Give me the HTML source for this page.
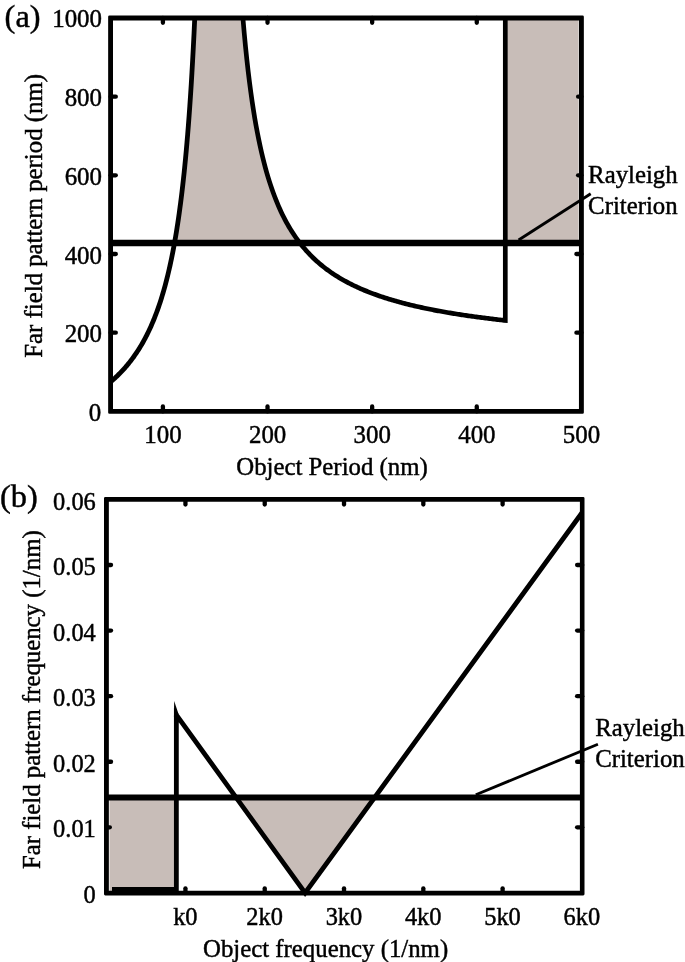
<!DOCTYPE html>
<html><head><meta charset="utf-8"><title>Figure</title>
<style>html,body{margin:0;padding:0;background:#fff;}svg{display:block;}text{font-family:"Liberation Serif",serif;fill:#000;stroke:#000;stroke-width:0.45px;}</style></head><body>
<svg width="685" height="962" viewBox="0 0 685 962">
<rect x="0" y="0" width="685" height="962" fill="#fff"/>
<path d="M174.50,243.00 L174.84,241.07 L175.18,239.10 L175.53,237.10 L175.87,235.06 L176.21,232.99 L176.56,230.88 L176.90,228.74 L177.24,226.55 L177.59,224.33 L177.93,222.06 L178.27,219.76 L178.62,217.40 L178.96,215.01 L179.30,212.57 L179.65,210.08 L179.99,207.54 L180.33,204.96 L180.68,202.32 L181.02,199.63 L181.36,196.88 L181.71,194.08 L182.05,191.22 L182.39,188.30 L182.74,185.32 L183.08,182.27 L183.42,179.16 L183.77,175.98 L184.11,172.73 L184.45,169.41 L184.80,166.01 L185.14,162.54 L185.48,158.99 L185.83,155.35 L186.17,151.63 L186.51,147.81 L186.86,143.91 L187.20,139.91 L187.54,135.81 L187.89,131.61 L188.23,127.30 L188.57,122.88 L188.92,118.34 L189.26,113.68 L189.60,108.90 L189.95,103.99 L190.29,98.95 L190.63,93.76 L190.98,88.43 L191.32,82.94 L191.66,77.29 L192.01,71.48 L192.35,65.49 L192.69,59.32 L193.04,52.96 L193.38,46.40 L193.72,39.63 L194.07,32.64 L194.41,25.41 L194.75,17.95 L242.92,17.95 L243.64,26.44 L244.36,34.51 L245.08,42.19 L245.80,49.50 L246.52,56.48 L247.24,63.15 L247.97,69.52 L248.69,75.61 L249.41,81.45 L250.13,87.05 L250.85,92.42 L251.57,97.58 L252.29,102.54 L253.01,107.31 L253.74,111.90 L254.46,116.32 L255.18,120.58 L255.90,124.69 L256.62,128.66 L257.34,132.49 L258.06,136.19 L258.78,139.77 L259.51,143.23 L260.23,146.58 L260.95,149.83 L261.67,152.98 L262.39,156.03 L263.11,158.98 L263.83,161.85 L264.55,164.64 L265.28,167.34 L266.00,169.97 L266.72,172.53 L267.44,175.01 L268.16,177.43 L268.88,179.78 L269.60,182.07 L270.32,184.30 L271.05,186.47 L271.77,188.59 L272.49,190.65 L273.21,192.66 L273.93,194.62 L274.65,196.54 L275.37,198.41 L276.09,200.23 L276.82,202.01 L277.54,203.75 L278.26,205.45 L278.98,207.12 L279.70,208.74 L280.42,210.33 L281.14,211.88 L281.86,213.40 L282.59,214.89 L283.31,216.35 L284.03,217.77 L284.75,219.17 L285.47,220.54 L286.19,221.88 L286.91,223.19 L287.63,224.48 L288.36,225.74 L289.08,226.98 L289.80,228.19 L290.52,229.38 L291.24,230.55 L291.96,231.69 L292.68,232.82 L293.40,233.92 L294.13,235.00 L294.85,236.06 L295.57,237.11 L296.29,238.13 L297.01,239.14 L297.73,240.13 L298.45,241.10 L299.17,242.06 L299.90,243.00Z" fill="#c8bdb8"/>
<rect x="505.3" y="17.95" width="73.19999999999999" height="225.05" fill="#c8bdb8"/>
<path d="M110.60,381.89 L111.31,381.29 L112.01,380.68 L112.72,380.06 L113.43,379.43 L114.14,378.79 L114.84,378.15 L115.55,377.49 L116.26,376.83 L116.96,376.16 L117.67,375.47 L118.38,374.78 L119.09,374.08 L119.79,373.36 L120.50,372.64 L121.21,371.90 L121.91,371.16 L122.62,370.40 L123.33,369.63 L124.04,368.85 L124.74,368.05 L125.45,367.25 L126.16,366.43 L126.86,365.60 L127.57,364.75 L128.28,363.89 L128.99,363.02 L129.69,362.13 L130.40,361.23 L131.11,360.31 L131.81,359.37 L132.52,358.42 L133.23,357.46 L133.94,356.48 L134.64,355.48 L135.35,354.46 L136.06,353.42 L136.77,352.37 L137.47,351.29 L138.18,350.20 L138.89,349.09 L139.59,347.95 L140.30,346.80 L141.01,345.62 L141.72,344.42 L142.42,343.19 L143.13,341.95 L143.84,340.67 L144.54,339.38 L145.25,338.05 L145.96,336.70 L146.67,335.32 L147.37,333.91 L148.08,332.47 L148.79,331.01 L149.49,329.51 L150.20,327.97 L150.91,326.41 L151.62,324.81 L152.32,323.17 L153.03,321.50 L153.74,319.78 L154.44,318.03 L155.15,316.24 L155.86,314.40 L156.57,312.52 L157.27,310.59 L157.98,308.62 L158.69,306.59 L159.39,304.52 L160.10,302.39 L160.81,300.21 L161.52,297.96 L162.22,295.66 L162.93,293.30 L163.64,290.87 L164.34,288.38 L165.05,285.81 L165.76,283.17 L166.47,280.46 L167.17,277.66 L167.88,274.78 L168.59,271.81 L169.29,268.76 L170.00,265.60 L170.71,262.35 L171.42,258.99 L172.12,255.52 L172.83,251.94 L173.54,248.23 L174.24,244.39 L174.95,240.43 L175.66,236.31 L176.37,232.05 L177.07,227.64 L177.78,223.05 L178.49,218.29 L179.20,213.34 L179.90,208.19 L180.61,202.83 L181.32,197.25 L182.02,191.43 L182.73,185.36 L183.44,179.02 L184.15,172.39 L184.85,165.45 L185.56,158.18 L186.27,150.55 L186.97,142.55 L187.68,134.13 L188.39,125.27 L189.10,115.92 L189.80,106.06 L190.51,95.64 L191.22,84.60 L191.92,72.88 L192.63,60.44 L193.34,47.19 L194.05,33.06 L194.75,17.95" fill="none" stroke="#000" stroke-width="4.8" stroke-linejoin="round"/>
<path d="M242.92,17.95 L244.23,33.15 L245.55,47.03 L246.87,59.75 L248.19,71.45 L249.51,82.25 L250.83,92.26 L252.15,101.55 L253.46,110.19 L254.78,118.27 L256.10,125.82 L257.42,132.90 L258.74,139.55 L260.06,145.81 L261.38,151.71 L262.69,157.28 L264.01,162.55 L265.33,167.55 L266.65,172.29 L267.97,176.79 L269.29,181.07 L270.61,185.15 L271.92,189.04 L273.24,192.75 L274.56,196.30 L275.88,199.69 L277.20,202.94 L278.52,206.05 L279.83,209.04 L281.15,211.90 L282.47,214.66 L283.79,217.31 L285.11,219.86 L286.43,222.31 L287.75,224.67 L289.06,226.96 L290.38,229.16 L291.70,231.28 L293.02,233.33 L294.34,235.32 L295.66,237.24 L296.98,239.09 L298.29,240.89 L299.61,242.63 L300.93,244.32 L302.25,245.96 L303.57,247.55 L304.89,249.09 L306.20,250.58 L307.52,252.04 L308.84,253.45 L310.16,254.83 L311.48,256.16 L312.80,257.46 L314.12,258.73 L315.43,259.96 L316.75,261.16 L318.07,262.33 L319.39,263.47 L320.71,264.58 L322.03,265.67 L323.35,266.72 L324.66,267.75 L325.98,268.76 L327.30,269.75 L328.62,270.71 L329.94,271.65 L331.26,272.56 L332.58,273.46 L333.89,274.34 L335.21,275.19 L336.53,276.03 L337.85,276.85 L339.17,277.66 L340.49,278.44 L341.80,279.21 L343.12,279.97 L344.44,280.71 L345.76,281.43 L347.08,282.14 L348.40,282.84 L349.72,283.52 L351.03,284.19 L352.35,284.84 L353.67,285.49 L354.99,286.12 L356.31,286.74 L357.63,287.34 L358.95,287.94 L360.26,288.53 L361.58,289.10 L362.90,289.67 L364.22,290.22 L365.54,290.77 L366.86,291.30 L368.17,291.83 L369.49,292.35 L370.81,292.86 L372.13,293.36 L373.45,293.85 L374.77,294.33 L376.09,294.81 L377.40,295.28 L378.72,295.74 L380.04,296.19 L381.36,296.63 L382.68,297.07 L384.00,297.51 L385.32,297.93 L386.63,298.35 L387.95,298.76 L389.27,299.17 L390.59,299.57 L391.91,299.96 L393.23,300.35 L394.55,300.73 L395.86,301.11 L397.18,301.48 L398.50,301.85 L399.82,302.21 L401.14,302.57 L402.46,302.92 L403.77,303.26 L405.09,303.60 L406.41,303.94 L407.73,304.27 L409.05,304.60 L410.37,304.92 L411.69,305.24 L413.00,305.55 L414.32,305.86 L415.64,306.17 L416.96,306.47 L418.28,306.77 L419.60,307.06 L420.92,307.36 L422.23,307.64 L423.55,307.93 L424.87,308.20 L426.19,308.48 L427.51,308.75 L428.83,309.02 L430.14,309.29 L431.46,309.55 L432.78,309.81 L434.10,310.07 L435.42,310.32 L436.74,310.57 L438.06,310.82 L439.37,311.06 L440.69,311.30 L442.01,311.54 L443.33,311.78 L444.65,312.01 L445.97,312.24 L447.29,312.47 L448.60,312.70 L449.92,312.92 L451.24,313.14 L452.56,313.36 L453.88,313.57 L455.20,313.79 L456.52,314.00 L457.83,314.21 L459.15,314.41 L460.47,314.62 L461.79,314.82 L463.11,315.02 L464.43,315.22 L465.74,315.41 L467.06,315.61 L468.38,315.80 L469.70,315.99 L471.02,316.17 L472.34,316.36 L473.66,316.54 L474.97,316.73 L476.29,316.91 L477.61,317.08 L478.93,317.26 L480.25,317.44 L481.57,317.61 L482.89,317.78 L484.20,317.95 L485.52,318.12 L486.84,318.28 L488.16,318.45 L489.48,318.61 L490.80,318.77 L492.11,318.93 L493.43,319.09 L494.75,319.25 L496.07,319.40 L497.39,319.56 L498.71,319.71 L500.03,319.86 L501.34,320.01 L502.66,320.16 L503.98,320.31 L505.30,320.45 L505.3,17.95" fill="none" stroke="#000" stroke-width="4.7" stroke-linejoin="miter" stroke-miterlimit="10"/>
<line x1="110.6" y1="243.0" x2="581.4" y2="243.0" stroke="#000" stroke-width="6.5"/>
<line x1="518.6" y1="240" x2="590.7" y2="193.8" stroke="#000" stroke-width="2.85"/>
<line x1="162.91" y1="411.4" x2="162.91" y2="406.40" stroke="#000" stroke-width="4.3" stroke-linecap="round"/>
<line x1="162.91" y1="17.95" x2="162.91" y2="22.85" stroke="#000" stroke-width="4.3" stroke-linecap="round"/>
<line x1="267.53" y1="411.4" x2="267.53" y2="406.40" stroke="#000" stroke-width="4.3" stroke-linecap="round"/>
<line x1="267.53" y1="17.95" x2="267.53" y2="22.85" stroke="#000" stroke-width="4.3" stroke-linecap="round"/>
<line x1="372.16" y1="411.4" x2="372.16" y2="406.40" stroke="#000" stroke-width="4.3" stroke-linecap="round"/>
<line x1="372.16" y1="17.95" x2="372.16" y2="22.85" stroke="#000" stroke-width="4.3" stroke-linecap="round"/>
<line x1="476.78" y1="411.4" x2="476.78" y2="406.40" stroke="#000" stroke-width="4.3" stroke-linecap="round"/>
<line x1="476.78" y1="17.95" x2="476.78" y2="22.85" stroke="#000" stroke-width="4.3" stroke-linecap="round"/>
<line x1="110.6" y1="332.71" x2="115.80" y2="332.71" stroke="#000" stroke-width="4.3" stroke-linecap="round"/>
<line x1="581.4" y1="332.71" x2="576.40" y2="332.71" stroke="#000" stroke-width="4.3" stroke-linecap="round"/>
<line x1="110.6" y1="254.02" x2="115.80" y2="254.02" stroke="#000" stroke-width="4.3" stroke-linecap="round"/>
<line x1="581.4" y1="254.02" x2="576.40" y2="254.02" stroke="#000" stroke-width="4.3" stroke-linecap="round"/>
<line x1="110.6" y1="175.33" x2="115.80" y2="175.33" stroke="#000" stroke-width="4.3" stroke-linecap="round"/>
<line x1="581.4" y1="175.33" x2="578.10" y2="175.33" stroke="#000" stroke-width="4.3" stroke-linecap="round"/>
<line x1="110.6" y1="96.64" x2="115.80" y2="96.64" stroke="#000" stroke-width="4.3" stroke-linecap="round"/>
<line x1="581.4" y1="96.64" x2="578.10" y2="96.64" stroke="#000" stroke-width="4.3" stroke-linecap="round"/>
<path d="M109.45,15.45 H582.5500000000001 A1.3,1.3 0 0 1 583.85,16.75 V412.5 A1.3,1.3 0 0 1 582.5500000000001,413.8 H109.45 A1.3,1.3 0 0 1 108.15,412.5 V16.75 A1.3,1.3 0 0 1 109.45,15.45Z M113.0,20.45 V409.0 H578.95 V20.45Z" fill="#000" fill-rule="evenodd"/>
<text x="4.6" y="26.7" font-size="32.4">(a)</text>
<text x="101.3" y="421.30" font-size="24.9" text-anchor="end">0</text>
<text x="102.0" y="341.61" font-size="24.9" text-anchor="end">200</text>
<text x="102.0" y="263.92" font-size="24.9" text-anchor="end">400</text>
<text x="102.0" y="185.23" font-size="24.9" text-anchor="end">600</text>
<text x="102.0" y="106.34" font-size="24.9" text-anchor="end">800</text>
<text x="102.0" y="26.95" font-size="24.9" text-anchor="end">1000</text>
<text x="163.01" y="443.1" font-size="24.9" text-anchor="middle">100</text>
<text x="267.63" y="443.1" font-size="24.9" text-anchor="middle">200</text>
<text x="372.26" y="443.1" font-size="24.9" text-anchor="middle">300</text>
<text x="476.88" y="443.1" font-size="24.9" text-anchor="middle">400</text>
<text x="581.50" y="443.1" font-size="24.9" text-anchor="middle">500</text>
<text x="332" y="475" font-size="24.8" text-anchor="middle">Object Period (nm)</text>
<text transform="translate(42.3,215.9) rotate(-90)" font-size="24.8" text-anchor="middle">Far field pattern period (nm)</text>
<text x="588.1" y="183.0" font-size="24.8">Rayleigh</text>
<text x="588.1" y="214.4" font-size="24.8">Criterion</text>
<rect x="109.5" y="797.6" width="66.85" height="93.39999999999998" fill="#c8bdb8"/>
<path d="M236.17,797.6 L374.52,797.6 L305.1,892.9Z" fill="#c8bdb8"/>
<path d="M112.0,889.4 L176.35,889.4 L176.35,714.9 L305.1,892.9 L582.2,512.5" fill="none" stroke="#000" stroke-width="4.8" stroke-linejoin="miter" stroke-miterlimit="10"/>
<path d="M173.95,716.9 L174.15,701 L178.54999999999998,713.9Z" fill="#000"/>
<line x1="106.45" y1="797.6" x2="582.2" y2="797.6" stroke="#000" stroke-width="6.0"/>
<line x1="475.8" y1="794.8" x2="597.9" y2="744.2" stroke="#000" stroke-width="2.85"/>
<line x1="185.44" y1="892.9" x2="185.44" y2="888.30" stroke="#000" stroke-width="4.3" stroke-linecap="round"/>
<line x1="185.44" y1="499.4" x2="185.44" y2="504.50" stroke="#000" stroke-width="4.3" stroke-linecap="round"/>
<line x1="264.73" y1="892.9" x2="264.73" y2="888.30" stroke="#000" stroke-width="4.3" stroke-linecap="round"/>
<line x1="264.73" y1="499.4" x2="264.73" y2="504.50" stroke="#000" stroke-width="4.3" stroke-linecap="round"/>
<line x1="344.02" y1="892.9" x2="344.02" y2="888.30" stroke="#000" stroke-width="4.3" stroke-linecap="round"/>
<line x1="344.02" y1="499.4" x2="344.02" y2="504.50" stroke="#000" stroke-width="4.3" stroke-linecap="round"/>
<line x1="423.32" y1="892.9" x2="423.32" y2="888.30" stroke="#000" stroke-width="4.3" stroke-linecap="round"/>
<line x1="423.32" y1="499.4" x2="423.32" y2="504.50" stroke="#000" stroke-width="4.3" stroke-linecap="round"/>
<line x1="502.61" y1="892.9" x2="502.61" y2="888.30" stroke="#000" stroke-width="4.3" stroke-linecap="round"/>
<line x1="502.61" y1="499.4" x2="502.61" y2="504.50" stroke="#000" stroke-width="4.3" stroke-linecap="round"/>
<line x1="106.45" y1="827.32" x2="109.85" y2="827.32" stroke="#000" stroke-width="4.3" stroke-linecap="round"/>
<line x1="582.2" y1="827.32" x2="577.10" y2="827.32" stroke="#000" stroke-width="4.3" stroke-linecap="round"/>
<line x1="106.45" y1="761.73" x2="111.05" y2="761.73" stroke="#000" stroke-width="4.3" stroke-linecap="round"/>
<line x1="582.2" y1="761.73" x2="577.10" y2="761.73" stroke="#000" stroke-width="4.3" stroke-linecap="round"/>
<line x1="106.45" y1="696.15" x2="111.05" y2="696.15" stroke="#000" stroke-width="4.3" stroke-linecap="round"/>
<line x1="582.2" y1="696.15" x2="577.10" y2="696.15" stroke="#000" stroke-width="4.3" stroke-linecap="round"/>
<line x1="106.45" y1="630.57" x2="111.05" y2="630.57" stroke="#000" stroke-width="4.3" stroke-linecap="round"/>
<line x1="582.2" y1="630.57" x2="577.10" y2="630.57" stroke="#000" stroke-width="4.3" stroke-linecap="round"/>
<line x1="106.45" y1="564.98" x2="111.05" y2="564.98" stroke="#000" stroke-width="4.3" stroke-linecap="round"/>
<line x1="582.2" y1="564.98" x2="577.10" y2="564.98" stroke="#000" stroke-width="4.3" stroke-linecap="round"/>
<path d="M105.3,497.0 H583.2 A1.3,1.3 0 0 1 584.5,498.3 V894.1 A1.3,1.3 0 0 1 583.2,895.4 H105.3 A1.3,1.3 0 0 1 104.0,894.1 V498.3 A1.3,1.3 0 0 1 105.3,497.0Z M108.85,501.8 V890.8 H579.9 V501.8Z" fill="#000" fill-rule="evenodd"/>
<text x="-0.1" y="506.7" font-size="32.4">(b)</text>
<text x="95.8" y="902.90" font-size="24.4" text-anchor="end">0</text>
<text x="95.8" y="837.40" font-size="24.4" text-anchor="end">0.01</text>
<text x="95.8" y="771.89" font-size="24.4" text-anchor="end">0.02</text>
<text x="95.8" y="706.39" font-size="24.4" text-anchor="end">0.03</text>
<text x="95.8" y="640.89" font-size="24.4" text-anchor="end">0.04</text>
<text x="95.8" y="575.38" font-size="24.4" text-anchor="end">0.05</text>
<text x="95.8" y="509.88" font-size="24.4" text-anchor="end">0.06</text>
<text x="185.34" y="925" font-size="24.4" text-anchor="middle">k0</text>
<text x="264.63" y="925" font-size="24.4" text-anchor="middle">2k0</text>
<text x="343.93" y="925" font-size="24.4" text-anchor="middle">3k0</text>
<text x="423.22" y="925" font-size="24.4" text-anchor="middle">4k0</text>
<text x="502.51" y="925" font-size="24.4" text-anchor="middle">5k0</text>
<text x="581.80" y="925" font-size="24.4" text-anchor="middle">6k0</text>
<text x="325.6" y="956.8" font-size="24.8" text-anchor="middle">Object frequency (1/nm)</text>
<text transform="translate(39.8,699.7) rotate(-90)" font-size="24.8" text-anchor="middle">Far field pattern frequency (1/nm)</text>
<text x="595.2" y="735.9" font-size="24.8">Rayleigh</text>
<text x="595.2" y="766.9" font-size="24.8">Criterion</text>
</svg></body></html>
